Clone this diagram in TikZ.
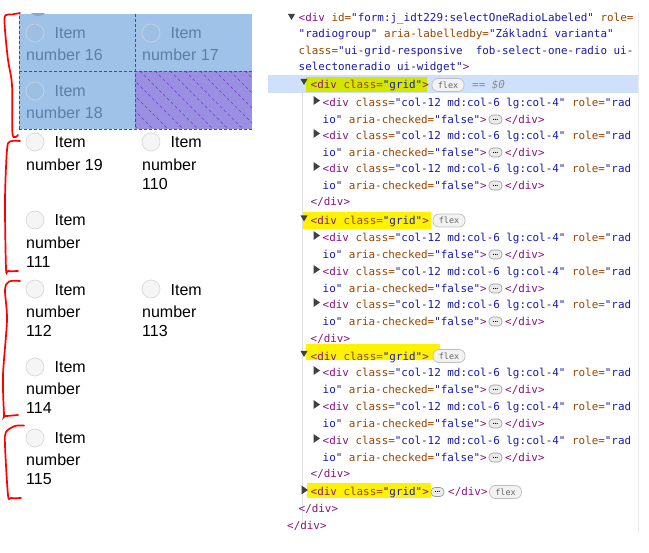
\documentclass[tikz,border=0pt]{standalone}
\usepackage{xcolor}
\usepackage{fontspec}
\setmainfont{Liberation Sans}
\setmonofont{DejaVu Sans Mono}
\definecolor{tagcol}{HTML}{881280}
\definecolor{attrcol}{HTML}{994500}
\definecolor{valcol}{HTML}{1A1AA6}
\definecolor{overlaycol}{HTML}{9FC3E8}
\definecolor{hatchcol}{HTML}{9A8FE0}
\definecolor{guidecol}{HTML}{6A2FC9}
\definecolor{dimtext}{HTML}{5C7FA3}
\definecolor{rowcol}{HTML}{CFE0FB}
\definecolor{limecol}{HTML}{D4E600}
\newcommand{\tg}[1]{\textcolor{tagcol}{#1}}
\newcommand{\an}[1]{\textcolor{attrcol}{#1}}
\newcommand{\av}[1]{\textcolor{valcol}{#1}}
\newcommand{\griddiv}{\tg{<div} \an{class=}\av{"grid"}\tg{>}}
\tikzset{
    itemtext/.style={font=\fontsize{16}{19}\selectfont, anchor=base west, inner sep=0pt},
    codeline/.style={font=\ttfamily\fontsize{10.9}{13}\selectfont, anchor=base west, inner sep=0pt},
    radiobtn/.style={circle, draw=black!15, fill=black!4, line width=0.7pt, minimum size=18pt, inner sep=0pt},
    flexpill/.style={rounded corners=6pt, draw=black!25, fill=black!5, line width=0.7pt, text=black!60,
        font=\ttfamily\fontsize{8.5}{10}\selectfont, minimum width=32pt, minimum height=13pt, inner sep=0pt},
    dotspill/.style={rounded corners=4pt, draw=black!40, fill=black!8, line width=0.6pt,
        font=\bfseries\fontsize{7}{7}\selectfont, minimum width=13pt, minimum height=9pt, inner sep=0pt},
    bracemark/.style={red, line width=1.7pt, line cap=round},
    marker/.style={fill=#1, draw=none},
}
\begin{document}
\begin{tikzpicture}[x=1pt, y=-1pt]
    \useasboundingbox (0,0) rectangle (649,553);
    \fill[white] (0,0) rectangle (649,553);

    % Items sous le calque
    \node[radiobtn] (radioA) at (35,142) {};
    \node[itemtext] (itemA) at (54.5,148) {Item};
    \node[itemtext] (labelA) at (26,170.2) {number 19};
    \node[radiobtn] (radioB) at (151,142) {};
    \node[itemtext] (itemB) at (170.5,148) {Item};
    \node[itemtext] (labelB) at (142,170.2) {number};
    \node[itemtext] (numB) at (142,189.2) {110};
    \node[radiobtn] (radioC) at (35,220) {};
    \node[itemtext] (itemC) at (54.5,226) {Item};
    \node[itemtext] (labelC) at (26,248.2) {number};
    \node[itemtext] (numC) at (26,267.2) {111};
    \node[radiobtn] (radioD) at (35,289) {};
    \node[itemtext] (itemD) at (54.5,296) {Item};
    \node[itemtext] (labelD) at (26,318) {number};
    \node[itemtext] (numD) at (26,337) {112};
    \node[radiobtn] (radioE) at (151,289) {};
    \node[itemtext] (itemE) at (170.5,296) {Item};
    \node[itemtext] (labelE) at (142,318) {number};
    \node[itemtext] (numE) at (142,337) {113};
    \node[radiobtn] (radioF) at (35,367) {};
    \node[itemtext] (itemF) at (54.5,373) {Item};
    \node[itemtext] (labelF) at (26,395) {number};
    \node[itemtext] (numF) at (26,414) {114};
    \node[radiobtn] (radioG) at (35,438) {};
    \node[itemtext] (itemG) at (54.5,444) {Item};
    \node[itemtext] (labelG) at (26,466) {number};
    \node[itemtext] (numG) at (26,485) {115};

    % Calque bleu de la grille
    \fill[overlaycol] (19,14) rectangle (252,129);
    \fill[hatchcol] (135,71) rectangle (252,129);
    \begin{scope}
        \clip (135,71) rectangle (252,129);
        \foreach \hx in {-40,-25,...,250}
            \draw[guidecol!85!hatchcol, dash pattern=on 3pt off 2.5pt, line width=0.7pt] (\hx,71) -- (\hx+58,129);
    \end{scope}
    \begin{scope}
        \clip (19,14) rectangle (60,18);
        \fill[overlaycol!85!black] (38,6) circle (10);
    \end{scope}
    \draw[guidecol, densely dashed, line width=0.6pt] (19,129) -- (19,14);
    \draw[guidecol, densely dashed, line width=0.6pt] (135,14) -- (135,129);
    \draw[guidecol, densely dashed, line width=0.6pt] (19,71) -- (252,71);
    \draw[guidecol, densely dashed, line width=0.6pt] (19,129) -- (252,129);

    \foreach \rname/\rx/\ry in {radioP/35/33, radioQ/151/33, radioR/35/91}
        \node[radiobtn, draw=dimtext!35, fill=overlaycol!98!black] (\rname) at (\rx,\ry) {};
    \node[itemtext, text=dimtext] (itemP) at (54.5,39) {Item};
    \node[itemtext, text=dimtext] (labelP) at (26,61) {number 16};
    \node[itemtext, text=dimtext] (itemQ) at (170.5,39) {Item};
    \node[itemtext, text=dimtext] (labelQ) at (142,61) {number 17};
    \node[itemtext, text=dimtext] (itemR) at (54.5,97) {Item};
    \node[itemtext, text=dimtext] (labelR) at (26,119) {number 18};

    % Accolades rouges
    \draw[bracemark] plot[smooth] coordinates {(20,13) (12,14.5) (5,16) (5,30) (8,60) (12,85) (12.5,134) (18,135)};
    \draw[bracemark] plot[smooth] coordinates {(20,141) (10,141.5) (7,150) (5,200) (6,268) (8,271) (18,271)};
    \draw[bracemark] plot[smooth] coordinates {(20,281) (9,281.5) (5,290) (7,320) (3,375) (4,414) (5,416) (18,415)};
    \draw[bracemark] plot[smooth] coordinates {(24,425.5) (15,426) (6,432) (5,445) (8,495) (11,498) (21,498)};

    % Panneau du code
    \fill[rowcol] (268,75) rectangle (638,93);
    \draw[black!8] (638,12) -- (638,533);
    \draw[black!12] (302,93) -- (302,525);
    \fill[marker=limecol] (306,77) rectangle (427,92);
    \fill[marker=yellow] (303,212) rectangle (431,229);
    \fill[marker=yellow] (306,344) rectangle (440,360);
    \fill[marker=yellow] (307,483) rectangle (431,498);

    \node[codeline] (codeA) at (298.5,22) {\tg{<div} \an{id=}\av{"form:j\_idt229:selectOneRadioLabeled"} \an{role=}};
    \node[codeline] (codeB) at (298.5,38) {\av{"radiogroup"} \an{aria-labelledby=}\av{"Základní varianta"}};
    \node[codeline] (codeC) at (298.5,55) {\an{class=}\av{"ui-grid-responsive\ \ fob-select-one-radio ui-}};
    \node[codeline] (codeD) at (298.5,71) {\av{selectoneradio ui-widget"}\tg{>}};

    % Les trois grilles ouvertes
    \foreach \gname/\gy in {gridA/88.5, gridB/224.5, gridC/360.5}
        \node[codeline] (\gname) at (310.5,\gy) {\griddiv};
    \node[flexpill] (flexA) at (448,85) {flex};
    \node[flexpill] (flexB) at (449,220.5) {flex};
    \node[flexpill] (flexC) at (449,356) {flex};
    \node[codeline, text=black!45] (dollar) at (472,88.5) {== \textit{\$0}};

    % Lignes des colonnes
    \foreach \bname/\by in {a/107, b/140, c/173, d/242, e/276, f/309, g/377, h/411, i/445}{
        \node[codeline] (col\bname) at (322.5,\by) {\tg{<div} \an{class=}\av{"col-12 md:col-6 lg:col-4"} \an{role=}\av{"rad}};
        \node[codeline] (aria\bname) at (322.5,\by+16.5) {\av{io"} \an{aria-checked=}\av{"false"}\tg{>}};
        \node[dotspill] (dots\bname) at (495.5,\by+12.5) {...};
        \node[codeline] (end\bname) at (505,\by+16.5) {\tg{</div>}};
        \fill[black!75] (313.5,\by-11) -- (320,\by-6.5) -- (313.5,\by-2) -- cycle;
    }

    % Fins de blocs
    \foreach \ename/\ex/\ey in {closeA/310.5/206, closeB/310.5/343, closeC/310.5/478, closeD/298.5/513, closeE/287/530}
        \node[codeline] (\ename) at (\ex,\ey) {\tg{</div>}};

    % Quatrieme grille fermee
    \node[codeline] (gridD) at (310.5,495.5) {\griddiv};
    \node[dotspill] (dotsD) at (437.5,492) {...};
    \node[codeline] (endD) at (448,495.5) {\tg{</div>}};
    \node[flexpill] (flexD) at (505.5,492) {flex};

    % Triangles
    \fill[black!75] (288,14) -- (295,14) -- (291.5,20) -- cycle;
    \foreach \ty in {79, 215.5, 351}
        \fill[black!75] (300.5,\ty) -- (307.5,\ty) -- (304,\ty+6) -- cycle;
    \fill[black!75] (301.5,485.5) -- (308,490) -- (301.5,494.5) -- cycle;
\end{tikzpicture}
\end{document}
